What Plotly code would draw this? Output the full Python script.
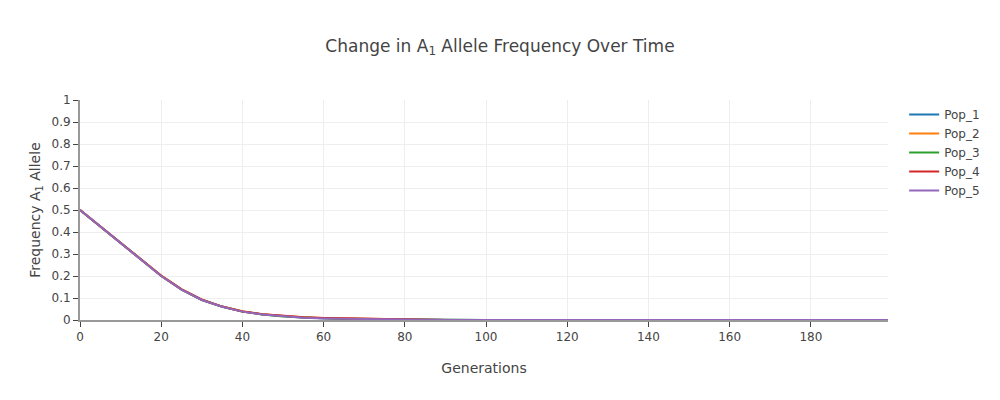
import plotly.graph_objects as go

generations = [0, 5, 10, 15, 20, 25, 30, 35, 40, 45, 50, 55, 60, 65, 70, 75, 80, 85, 90, 95,
               100, 110, 120, 130, 140, 150, 160, 170, 180, 190, 199]

pop_1 = [0.5, 0.425, 0.35, 0.276, 0.201, 0.139, 0.092, 0.061, 0.039, 0.025, 0.017, 0.011, 0.008,
         0.006, 0.004, 0.003, 0.002, 0.001, 0, 0, 0, 0, 0, 0, 0, 0, 0, 0, 0, 0, 0]
pop_2 = [0.5, 0.426, 0.351, 0.276, 0.202, 0.14, 0.093, 0.061, 0.04, 0.026, 0.018, 0.012, 0.009,
         0.007, 0.006, 0.005, 0.004, 0.002, 0, 0, 0, 0, 0, 0, 0, 0, 0, 0, 0, 0, 0]
pop_3 = [0.5, 0.425, 0.35, 0.275, 0.2, 0.138, 0.091, 0.06, 0.038, 0.025, 0.016, 0.011, 0.007,
         0.005, 0.004, 0.003, 0.002, 0.001, 0, 0, 0, 0, 0, 0, 0, 0, 0, 0, 0, 0, 0]
pop_4 = [0.5, 0.425, 0.351, 0.276, 0.201, 0.139, 0.092, 0.061, 0.039, 0.026, 0.018, 0.012, 0.009,
         0.007, 0.006, 0.005, 0.004, 0.002, 0, 0, 0, 0, 0, 0, 0, 0, 0, 0, 0, 0, 0]
pop_5 = [0.5, 0.424, 0.349, 0.275, 0.2, 0.138, 0.091, 0.06, 0.038, 0.025, 0.016, 0.01, 0.007,
         0.005, 0.004, 0.003, 0.002, 0.001, 0, 0, 0, 0, 0, 0, 0, 0, 0, 0, 0, 0, 0]

names = ["Pop_1", "Pop_2", "Pop_3", "Pop_4", "Pop_5"]
series = [pop_1, pop_2, pop_3, pop_4, pop_5]
colors = ["#1f77b4", "#ff7f0e", "#2ca02c", "#d62728", "#9467bd"]

FONT = "Verdana, DejaVu Sans, sans-serif"

fig = go.Figure()
for name, vals, col in zip(names, series, colors):
    fig.add_trace(go.Scatter(x=generations, y=vals, mode="lines", name=name,
                             line=dict(color=col, width=2)))

fig.update_layout(
    template="plotly_white",
    width=1000, height=400,
    margin=dict(l=80, r=112, t=100, b=80),
    font=dict(family=FONT, size=12, color="#444"),
    title=dict(text="Change in A<sub>1</sub> Allele Frequency Over Time",
               x=0.5, xanchor="center", y=0.9, font=dict(size=17, color="#444")),
    legend=dict(font=dict(size=12, color="#444")),
    xaxis=dict(title=dict(text="Generations", font=dict(size=14), standoff=20),
               range=[0, 199], dtick=20, showline=True, linecolor="#999", linewidth=2,
               ticks="outside", ticklen=5, tickcolor="#444", zeroline=False,
               gridcolor="#eeeeee", automargin=False),
    yaxis=dict(title=dict(text="Frequency A<sub>1</sub> Allele", font=dict(size=14), standoff=8),
               range=[0, 1], dtick=0.1, showline=True, linecolor="#999", linewidth=2,
               ticks="outside", ticklen=5, tickcolor="#444", zeroline=False,
               gridcolor="#eeeeee", automargin=False),
)

fig.write_html("out.html")
